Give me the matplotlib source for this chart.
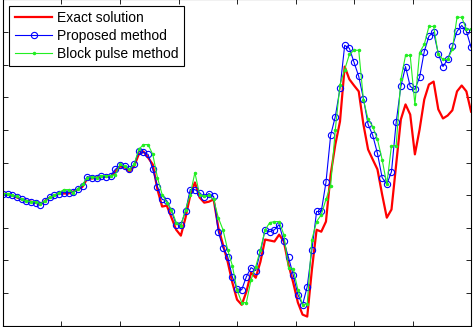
import numpy as np
import matplotlib
matplotlib.use("Agg")
import matplotlib.pyplot as plt

# sample grid: 101 points over the time interval
t = np.linspace(0, 1, 101)

exact = [4.05, 4.02, 3.99, 3.93, 3.87, 3.83, 3.80, 3.77, 3.71, 3.83,
         3.93, 3.99, 4.05, 4.05, 4.05, 4.11, 4.17, 4.26, 4.51, 4.51,
         4.54, 4.57, 4.57, 4.57, 4.72, 4.88, 4.85, 4.72, 4.88, 5.25,
         5.34, 5.15, 4.94, 4.17, 3.65, 3.68, 3.31, 2.94, 2.76, 3.31,
         3.99, 4.39, 3.93, 3.77, 3.80, 3.87, 3.01, 2.48, 1.96, 1.32,
         0.80, 0.64, 1.04, 1.63, 1.47, 1.96, 2.64, 2.61, 2.58, 2.79,
         2.58, 1.87, 1.32, 0.71, 0.34, 0.28, 1.72, 2.94, 2.88, 3.19,
         4.63, 5.55, 6.26, 7.94, 7.55, 7.36, 7.18, 6.17, 5.40, 5.09,
         4.79, 4.02, 3.31, 3.56, 4.94, 6.32, 6.78, 6.47, 5.25, 6.01,
         6.93, 7.39, 7.48, 6.63, 6.35, 6.44, 6.60, 7.18, 7.36, 7.18,
         6.56]

proposed = [4.05, 4.03, 3.99, 3.93, 3.87, 3.83, 3.80, 3.77, 3.71, 3.83,
            3.93, 3.99, 4.05, 4.08, 4.08, 4.11, 4.20, 4.29, 4.57, 4.54,
            4.54, 4.60, 4.57, 4.60, 4.79, 4.91, 4.88, 4.79, 4.94, 5.34,
            5.31, 5.25, 4.79, 4.26, 3.87, 3.83, 3.50, 3.10, 3.10, 3.50,
            4.17, 4.17, 4.08, 3.93, 4.05, 3.96, 2.88, 2.39, 2.12, 1.50,
            1.13, 1.10, 1.50, 1.78, 1.69, 2.27, 2.94, 2.88, 2.94, 3.10,
            2.58, 2.09, 1.56, 0.95, 0.64, 1.20, 2.33, 3.50, 3.50, 4.39,
            5.83, 6.41, 7.27, 8.59, 8.50, 8.07, 7.64, 6.96, 6.17, 5.83,
            5.28, 4.54, 4.33, 4.72, 6.23, 7.33, 7.94, 7.33, 7.24, 7.61,
            8.40, 8.87, 8.99, 8.34, 7.94, 8.16, 8.56, 9.02, 9.20, 9.02,
            8.53]

block_pulse = [4.05, 4.05, 3.99, 3.96, 3.87, 3.83, 3.80, 3.80, 3.74, 3.83,
               3.93, 3.99, 4.08, 4.17, 4.17, 4.08, 4.20, 4.33, 4.54, 4.57,
               4.54, 4.60, 4.60, 4.60, 4.63, 4.94, 4.88, 4.79, 4.94, 5.40,
               5.55, 5.55, 5.25, 4.54, 4.02, 3.77, 3.56, 3.16, 3.07, 3.56,
               4.02, 4.69, 4.02, 3.96, 3.99, 3.87, 3.31, 2.94, 2.33, 1.84,
               1.10, 0.71, 0.71, 1.41, 1.81, 2.33, 2.94, 3.16, 3.19, 3.19,
               2.79, 1.78, 1.75, 1.10, 0.64, 0.67, 2.64, 3.19, 3.40, 3.87,
               4.29, 6.01, 7.39, 7.85, 8.31, 8.44, 8.44, 6.93, 6.32, 6.10,
               5.71, 5.09, 4.33, 5.52, 5.52, 7.55, 8.28, 8.28, 6.78, 8.37,
               8.62, 9.17, 9.17, 8.31, 8.16, 8.16, 8.47, 9.45, 9.45, 9.08,
               9.08]

labels = ["Exact solution", "Proposed method", "Block pulse method"]

plt.rcParams['font.family'] = ['Liberation Sans', 'DejaVu Sans']

fig = plt.figure(figsize=(4.74, 3.27), dpi=100)
ax = fig.add_axes([0.0063, 0.004, 0.9875, 0.998])

ax.plot(t, exact, color='#ff0000', lw=1.6, label=labels[0])
ax.plot(t, proposed, color='#0000ff', lw=0.8, marker='o', ms=4.5,
        mfc='none', mec='#0000ff', mew=0.8, label=labels[1])
ax.plot(t, block_pulse, color='#22ee22', lw=0.8, marker='.', ms=3,
        label=labels[2])

ax.set_xlim(0, 1)
ax.set_ylim(0, 10)
ax.set_xticks(np.linspace(0, 1, 9))
ax.set_yticks(np.arange(0, 11, 1))
ax.tick_params(direction='in', length=3.3, width=0.6,
               top=True, right=True, labelbottom=False, labelleft=False)
for s in ax.spines.values():
    s.set_linewidth(0.8)

leg = ax.legend(loc='upper left', fontsize=10, frameon=True, fancybox=False,
                edgecolor='black', framealpha=1, handlelength=2.7,
                handletextpad=0.36, labelspacing=0.28, borderpad=0.4,
                borderaxespad=0.45)
leg.get_frame().set_linewidth(0.8)

fig.savefig("out.png", dpi=100)
